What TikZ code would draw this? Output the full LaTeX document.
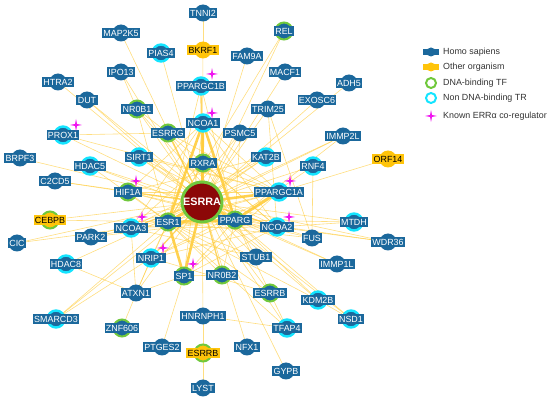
\documentclass[tikz,border=0pt]{standalone}
\usepackage{fontspec}
\setmainfont{Liberation Sans}
\usetikzlibrary{backgrounds}

\definecolor{hsblue}{RGB}{27,104,156}
\definecolor{orgyellow}{RGB}{255,196,10}
\definecolor{tfgreen}{RGB}{112,200,60}
\definecolor{trcyan}{RGB}{20,228,255}
\definecolor{linkyellow}{RGB}{255,204,60}
\definecolor{hubred}{RGB}{140,8,8}
\definecolor{coregpink}{RGB}{240,20,240}

\tikzset{
  dot/.style={circle,minimum size=17pt,inner sep=0pt,fill=hsblue},
  tfdot/.style={dot,draw=tfgreen,line width=2pt},
  trdot/.style={dot,draw=trcyan,line width=2.4pt},
  odot/.style={dot,fill=orgyellow},
  otfdot/.style={odot,draw=tfgreen,line width=2pt},
  genebox/.style={rectangle,fill=hsblue,text=white,inner xsep=1.4pt,inner ysep=0.8pt,
    minimum height=10pt,font=\fontsize{8.9}{9}\selectfont},
  obox/.style={genebox,fill=orgyellow,text=black},
  hub/.style={circle,fill=hubred,draw=tfgreen,line width=3pt,minimum size=40pt,inner sep=0pt,
    text=white,font=\fontsize{10.8}{11}\selectfont\bfseries},
  link/.style={linkyellow,line width=0.6pt,opacity=0.65},
  midlink/.style={link,line width=1.3pt,opacity=0.8},
  thicklink/.style={link,line width=2.6pt,opacity=0.9},
  legtext/.style={anchor=west,text=black!80,inner sep=0pt,font=\fontsize{8.9}{9}\selectfont}
}

% dot style, box style, name, position, label
\newcommand{\gene}[5]{%
  \node[#1] at (#4) {};
  \node[#2] (#3) at (#4) {#5};}
\newcommand{\coreg}[1]{%
  \fill[coregpink] (#1) +(0,-6) -- +(1,-1) -- +(6,0) -- +(1,1) -- +(0,6) -- +(-1,1) -- +(-6,0) -- +(-1,-1) -- cycle;}

\begin{document}
\begin{tikzpicture}[x=1pt,y=-1pt]
  \useasboundingbox (0,0) rectangle (550,401);

  \node[hub] (esrra) at (202,202) {ESRRA};

  \gene{dot}{genebox}{tnni2}{203,13}{TNNI2}
  \gene{odot}{obox}{bkrf1}{203,50}{BKRF1}
  \gene{tfdot}{genebox}{rel}{284,31}{REL}
  \gene{dot}{genebox}{map2k5}{121,33}{MAP2K5}
  \gene{trdot}{genebox}{pias4}{161,53}{PIAS4}
  \gene{dot}{genebox}{fam9a}{247,56}{FAM9A}
  \gene{dot}{genebox}{ipo13}{121,72}{IPO13}
  \gene{dot}{genebox}{macf1}{285,72}{MACF1}
  \gene{dot}{genebox}{htra2}{58,82}{HTRA2}
  \gene{dot}{genebox}{adh5}{349,83}{ADH5}
  \gene{trdot}{genebox}{ppargc1b}{201,86}{PPARGC1B}
  \gene{dot}{genebox}{dut}{87,100}{DUT}
  \gene{dot}{genebox}{exosc6}{317,100}{EXOSC6}
  \gene{tfdot}{genebox}{nr0b1}{137,109}{NR0B1}
  \gene{dot}{genebox}{trim25}{268,109}{TRIM25}
  \gene{trdot}{genebox}{ncoa1}{203,123}{NCOA1}
  \gene{tfdot}{genebox}{esrrg}{168,133}{ESRRG}
  \gene{dot}{genebox}{psmc5}{240,133}{PSMC5}
  \gene{trdot}{genebox}{prox1}{63,135}{PROX1}
  \gene{dot}{genebox}{immp2l}{343,136}{IMMP2L}
  \gene{trdot}{genebox}{sirt1}{139,157}{SIRT1}
  \gene{dot}{genebox}{brpf3}{20,158}{BRPF3}
  \gene{trdot}{genebox}{kat2b}{266,157}{KAT2B}
  \gene{odot}{obox}{orf14}{388,159}{ORF14}
  \gene{tfdot}{genebox}{rxra}{203,163}{RXRA}
  \gene{trdot}{genebox}{hdac5}{90,166}{HDAC5}
  \gene{trdot}{genebox}{rnf4}{313,166}{RNF4}
  \gene{dot}{genebox}{c2cd5}{55,181}{C2CD5}
  \gene{tfdot}{genebox}{hif1a}{128,192}{HIF1A}
  \gene{trdot}{genebox}{ppargc1a}{279,192}{PPARGC1A}
  \gene{otfdot}{obox}{cebpb}{50,220}{CEBPB}
  \gene{tfdot}{genebox}{pparg}{235,220}{PPARG}
  \gene{tfdot}{genebox}{esr1}{168,222}{ESR1}
  \gene{trdot}{genebox}{mtdh}{354,222}{MTDH}
  \gene{trdot}{genebox}{ncoa3}{131,228}{NCOA3}
  \gene{trdot}{genebox}{ncoa2}{277,227}{NCOA2}
  \gene{dot}{genebox}{park2}{91,237}{PARK2}
  \gene{dot}{genebox}{fus}{312,238}{FUS}
  \gene{dot}{genebox}{cic}{17,243}{CIC}
  \gene{dot}{genebox}{wdr36}{388,242}{WDR36}
  \gene{dot}{genebox}{stub1}{256,257}{STUB1}
  \gene{trdot}{genebox}{nrip1}{151,258}{NRIP1}
  \gene{dot}{genebox}{immp1l}{337,264}{IMMP1L}
  \gene{trdot}{genebox}{hdac8}{66,264}{HDAC8}
  \gene{tfdot}{genebox}{sp1}{184,276}{SP1}
  \gene{tfdot}{genebox}{nr0b2}{222,275}{NR0B2}
  \gene{dot}{genebox}{atxn1}{136,293}{ATXN1}
  \gene{tfdot}{genebox}{esrrbh}{270,293}{ESRRB}
  \gene{trdot}{genebox}{kdm2b}{318,300}{KDM2B}
  \gene{dot}{genebox}{hnrnph1}{203,316}{HNRNPH1}
  \gene{trdot}{genebox}{smarcd3}{56,319}{SMARCD3}
  \gene{trdot}{genebox}{nsd1}{351,319}{NSD1}
  \gene{tfdot}{genebox}{znf606}{122,328}{ZNF606}
  \gene{trdot}{genebox}{tfap4}{287,328}{TFAP4}
  \gene{dot}{genebox}{ptges2}{162,347}{PTGES2}
  \gene{dot}{genebox}{nfx1}{247,347}{NFX1}
  \gene{otfdot}{obox}{esrrbo}{203,353}{ESRRB}
  \gene{dot}{genebox}{gypb}{286,371}{GYPB}
  \gene{dot}{genebox}{lyst}{203,388}{LYST}

  % known co-regulators
  \coreg{212,74}
  \coreg{212,113}
  \coreg{76,125}
  \coreg{136,181}
  \coreg{290,181}
  \coreg{142,217}
  \coreg{289,217}
  \coreg{163,248}
  \coreg{193,264}

  \begin{pgfonlayer}{background}
    \foreach \a/\b in {esrra/map2k5,esrra/pias4,esrra/ipo13,esrra/htra2,esrra/dut,esrra/nr0b1,
      esrra/prox1,esrra/fam9a,esrra/macf1,esrra/adh5,esrra/exosc6,esrra/trim25,esrra/psmc5,
      esrra/immp2l,esrra/sirt1,esrra/brpf3,esrra/kat2b,esrra/rnf4,esrra/hdac5,esrra/c2cd5,
      esrra/cebpb,esrra/mtdh,esrra/park2,esrra/fus,esrra/cic,esrra/wdr36,esrra/stub1,
      esrra/immp1l,esrra/hdac8,esrra/atxn1,esrra/esrrbh,esrra/kdm2b,esrra/hnrnph1,
      esrra/smarcd3,esrra/nsd1,esrra/tfap4,esrra/nfx1,esrra/gypb,esrra/rel,
      esrra/bkrf1,bkrf1/tnni2,prox1/esrrg,prox1/ppargc1a,rel/esr1,
      trim25/ncoa2,trim25/fus,immp2l/esr1,immp2l/pparg,orf14/ppargc1a,rnf4/fus,
      rnf4/pparg,mtdh/ncoa2,mtdh/pparg,wdr36/pparg,wdr36/ncoa2,fus/pparg,fus/esr1,
      immp1l/pparg,kdm2b/nsd1,kdm2b/pparg,kdm2b/esr1,nsd1/pparg,esrrbh/tfap4,esrrbh/esr1,
      tfap4/hnrnph1,tfap4/esr1,esrrbo/lyst,esrrbo/hnrnph1,ptges2/sp1,
      znf606/nrip1,smarcd3/nrip1,smarcd3/esr1,hdac8/atxn1,atxn1/sp1,atxn1/esr1,
      atxn1/ncoa3,cic/ncoa3,cebpb/esr1,park2/esr1,park2/pparg,c2cd5/hif1a,
      hdac5/pparg,hdac5/esr1,dut/pparg,ipo13/nr0b1,
      nr0b1/esr1,nr0b1/pparg,nr0b1/esrrg,ppargc1b/esr1,ppargc1b/pparg,ncoa1/ncoa3,
      ncoa1/ncoa2,ncoa1/hif1a,ncoa1/sp1,ncoa1/esrrg,ncoa1/ppargc1a,esrrg/pparg,
      esrrg/ppargc1a,esrrg/ncoa2,psmc5/esr1,psmc5/pparg,sirt1/ppargc1a,sirt1/pparg,
      sirt1/ncoa2,kat2b/esr1,kat2b/hif1a,kat2b/ncoa3,rxra/ppargc1a,rxra/ncoa2,rxra/ncoa3,
      rxra/esr1,rxra/pparg,hif1a/pparg,hif1a/ppargc1a,hif1a/ncoa2,hif1a/esr1,ppargc1a/esr1,
      ppargc1a/ncoa3,ppargc1a/nrip1,ppargc1a/sp1,ncoa3/pparg,ncoa3/ncoa2,ncoa2/esr1,
      ncoa2/sp1,nrip1/pparg,nrip1/esr1,nrip1/ncoa2,sp1/pparg,sp1/nr0b2,nr0b2/esr1,
      nr0b2/pparg,stub1/esr1,stub1/pparg,stub1/ncoa3,esrrbh/pparg,esrrbh/nrip1}
      \draw[link] (\a) -- (\b);
    \foreach \a/\b in {esrra/esrrg,esrra/hif1a,esrra/ncoa2,esrra/nrip1,esrra/nr0b2,
      esrra/ppargc1b,ncoa1/rxra,esrra/ncoa3}
      \draw[midlink] (\a) -- (\b);
    \foreach \a/\b in {esrra/ncoa1,esrra/rxra,esrra/esr1,esrra/pparg,esrra/ppargc1a,
      esrra/sp1,ncoa1/esr1,ncoa1/pparg,esr1/pparg,pparg/ppargc1a,esr1/sp1}
      \draw[thicklink] (\a) -- (\b);
  \end{pgfonlayer}

  % legend
  \fill[hsblue] (423,49) rectangle (439,55);
  \fill[hsblue] (431,52) circle (4.5);
  \node[legtext] (leghs) at (443,52) {Homo sapiens};
  \fill[orgyellow] (423,64) rectangle (439,70);
  \fill[orgyellow] (431,67) circle (4.5);
  \node[legtext] (legorg) at (443,67) {Other organism};
  \draw[tfgreen,line width=2pt] (431,83) circle (5);
  \node[legtext] (legtf) at (443,83) {DNA-binding TF};
  \draw[trcyan,line width=2pt] (431,98) circle (5);
  \node[legtext] (legtr) at (443,98) {Non DNA-binding TR};
  \coreg{431,116}
  \node[legtext] (legco) at (443,116) {Known ERRα co-regulator};
\end{tikzpicture}
\end{document}
